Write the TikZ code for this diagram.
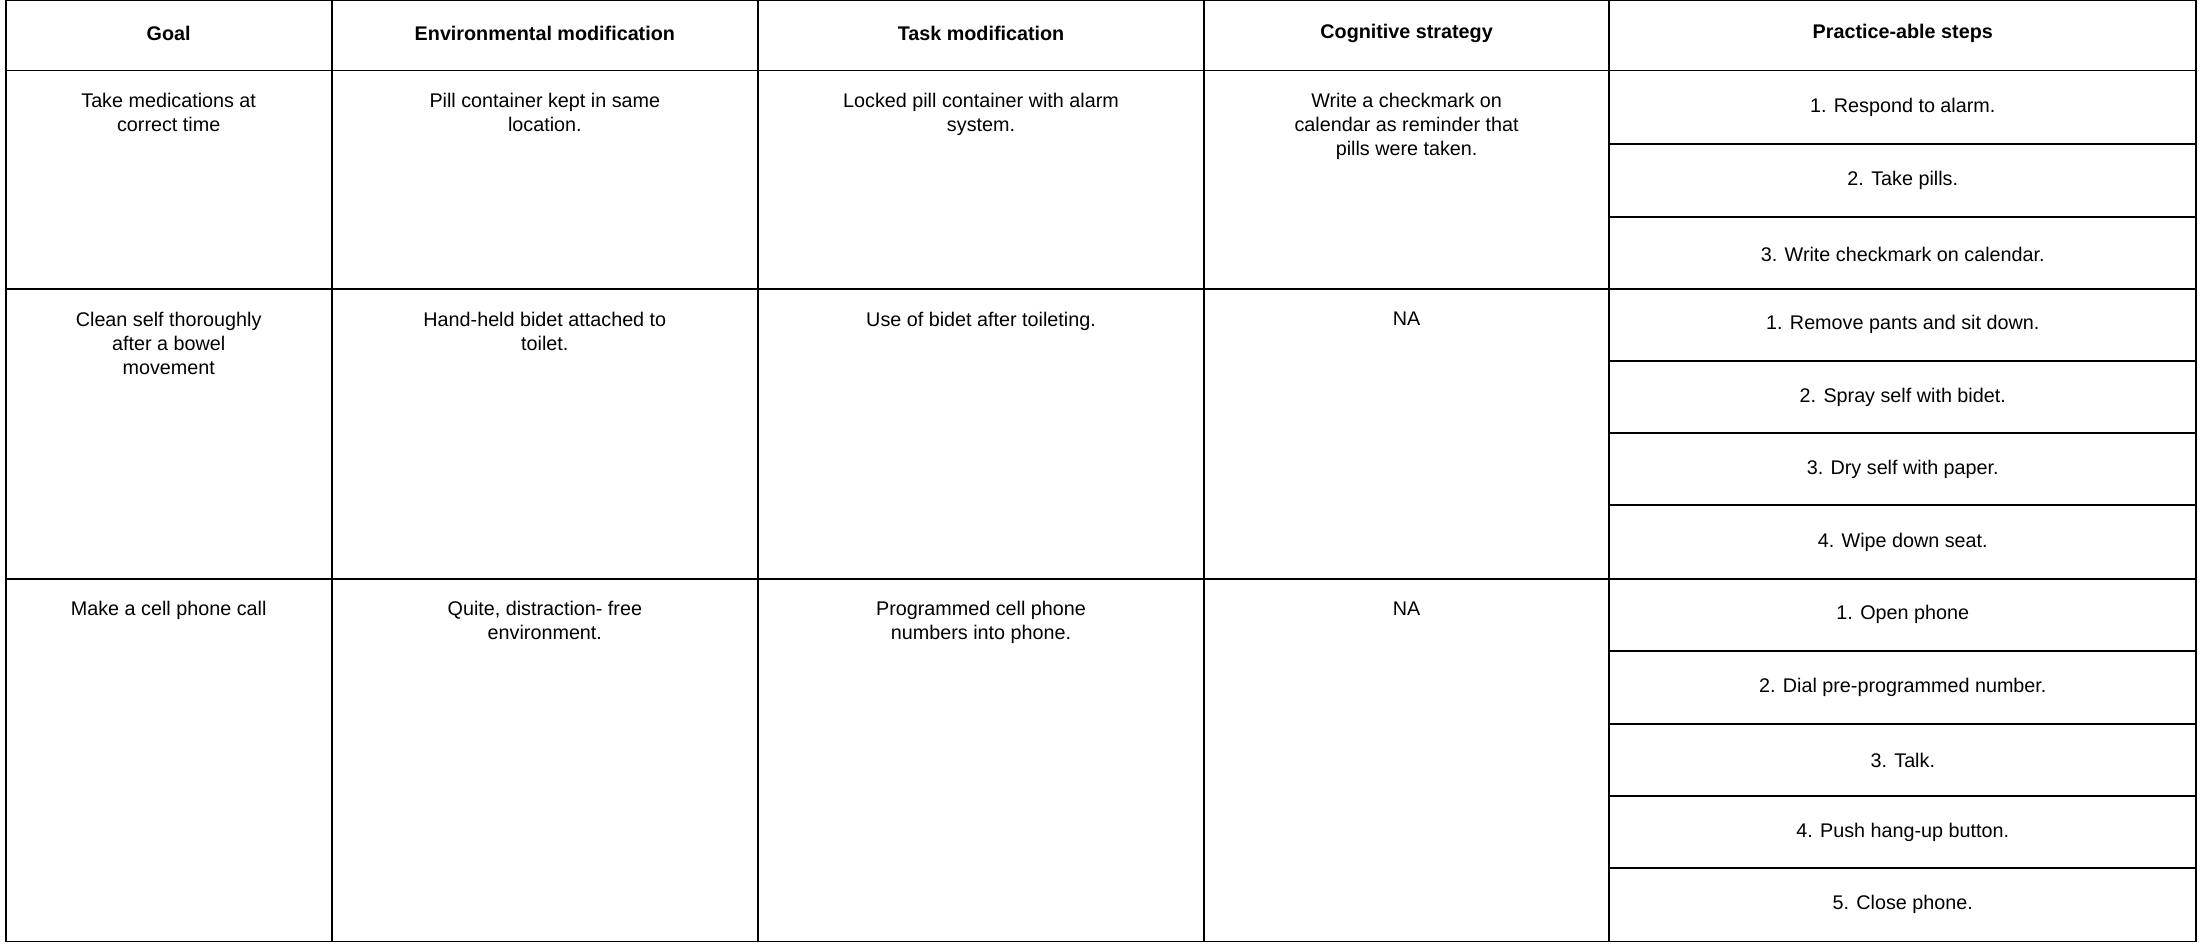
\documentclass[tikz,border=0pt]{standalone}
\usepackage{fontspec}
\setmainfont{Liberation Sans}
\begin{document}
\begin{tikzpicture}[x=1pt,y=-1pt,
  grid/.style={line width=1.3pt,black},
  hdr/.style={font=\fontsize{14}{17}\selectfont\bfseries,anchor=center,align=center},
  cell/.style={font=\fontsize{14}{17}\selectfont,anchor=north,align=center,inner sep=0pt},
  stepc/.style={font=\fontsize{14}{17}\selectfont,anchor=center,align=center}]
\useasboundingbox (0,0) rectangle (1560,669.5);
% outer grid
\draw[grid] (4,0) rectangle (1556,667);
\foreach \x in {235,537,853,1140} \draw[grid] (\x,0) -- (\x,667);
\foreach \y in {50,205,410} \draw[grid] (4,\y) -- (1556,\y);
\foreach \y in {102,154,256,307,358,461,513,564,615} \draw[grid] (1140,\y) -- (1556,\y);
% headers
\node[hdr] (h1) at (119.5,24) {Goal};
\node[hdr] (h2) at (386,24) {Environmental modification};
\node[hdr] (h3) at (695,24) {Task modification};
\node[hdr] (h4) at (996.5,24) {Cognitive strategy};
\node[hdr] (h5) at (1348,24) {Practice-able steps};
% row 1
\node[cell] (a1) at (119.5,66) {Take medications at\\correct time};
\node[cell] (b1) at (386,66) {Pill container kept in same\\location.};
\node[cell] (c1) at (695,66) {Locked pill container with alarm\\system.};
\node[cell] (d1) at (996.5,66) {Write a checkmark on\\calendar as reminder that\\pills were taken.};
\node[stepc] (e11) at (1348,76) {1. Respond to alarm.};
\node[stepc] (e12) at (1348,128) {2. Take pills.};
\node[stepc] (e13) at (1348,180) {3. Write checkmark on calendar.};
% row 2
\node[cell] (a2) at (119.5,221) {Clean self thoroughly\\after a bowel\\movement};
\node[cell] (b2) at (386,221) {Hand-held bidet attached to\\toilet.};
\node[cell] (c2) at (695,221) {Use of bidet after toileting.};
\node[cell] (d2) at (996.5,221) {NA};
\node[stepc] (e21) at (1348,230) {1. Remove pants and sit down.};
\node[stepc] (e22) at (1348,281.5) {2. Spray self with bidet.};
\node[stepc] (e23) at (1348,332.5) {3. Dry self with paper.};
\node[stepc] (e24) at (1348,384) {4. Wipe down seat.};
% row 3
\node[cell] (a3) at (119.5,426) {Make a cell phone call};
\node[cell] (b3) at (386,426) {Quite, distraction- free\\environment.};
\node[cell] (c3) at (695,426) {Programmed cell phone\\numbers into phone.};
\node[cell] (d3) at (996.5,426) {NA};
\node[stepc] (e31) at (1348,435.5) {1. Open phone};
\node[stepc] (e32) at (1348,487) {2. Dial pre-programmed number.};
\node[stepc] (e33) at (1348,538.5) {3. Talk.};
\node[stepc] (e34) at (1348,589.5) {4. Push hang-up button.};
\node[stepc] (e35) at (1348,641) {5. Close phone.};
\end{tikzpicture}
\end{document}
